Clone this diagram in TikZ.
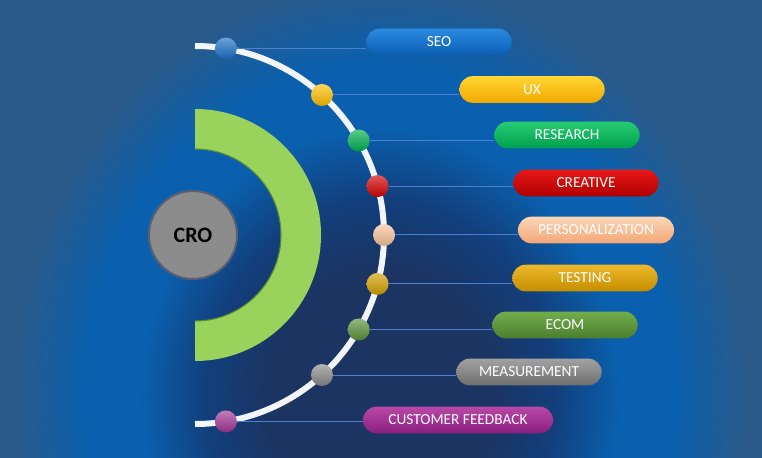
\documentclass[tikz,border=0pt]{standalone}
\usepackage{fontspec}
\setmainfont{Carlito}
\usetikzlibrary{calc,positioning,shapes.misc}

\definecolor{bgnavy}{HTML}{1B3461}
\definecolor{bgmid}{HTML}{123F7C}
\definecolor{bgblue}{HTML}{0A60AE}
\definecolor{bgcorner}{HTML}{2A5A8A}
\definecolor{linkblue}{HTML}{4A7FD2}
\definecolor{arcwhite}{HTML}{F2F5FA}
\definecolor{ringgreen}{HTML}{9AD35C}
\definecolor{ringshadow}{HTML}{5E8C34}
\definecolor{crogrey}{HTML}{8C8C8C}
\definecolor{croedge}{HTML}{5A6070}
\definecolor{seotop}{HTML}{2A8BE0}
\definecolor{seobot}{HTML}{0B5DB2}
\definecolor{seodot}{HTML}{1A70C8}
\definecolor{uxtop}{HTML}{FFD633}
\definecolor{uxbot}{HTML}{F2A900}
\definecolor{uxdot}{HTML}{FFC000}
\definecolor{restop}{HTML}{26CC72}
\definecolor{resbot}{HTML}{00A04E}
\definecolor{resdot}{HTML}{00B050}
\definecolor{cretop}{HTML}{E81818}
\definecolor{crebot}{HTML}{B00000}
\definecolor{credot}{HTML}{D40000}
\definecolor{pertop}{HTML}{FDD6B8}
\definecolor{perbot}{HTML}{F3A676}
\definecolor{perdot}{HTML}{F8C49C}
\definecolor{testop}{HTML}{EDB82A}
\definecolor{tesbot}{HTML}{C48E00}
\definecolor{tesdot}{HTML}{D4A000}
\definecolor{ecotop}{HTML}{72AE4C}
\definecolor{ecobot}{HTML}{4A7E2E}
\definecolor{ecodot}{HTML}{5C9238}
\definecolor{meatop}{HTML}{A2A2A2}
\definecolor{meabot}{HTML}{6E6E6E}
\definecolor{meadot}{HTML}{8A8A8A}
\definecolor{cuftop}{HTML}{B848A8}
\definecolor{cufbot}{HTML}{8A1F80}
\definecolor{cufdot}{HTML}{A33495}

\pgfdeclareradialshading{bgshade}{\pgfpoint{0bp}{0bp}}{color(0bp)=(bgnavy); color(6bp)=(bgnavy); color(9.5bp)=(bgmid); color(13bp)=(bgblue); color(16bp)=(bgblue); color(20bp)=(bgcorner); color(50bp)=(bgcorner)}

\begin{document}
\begin{tikzpicture}[x=0.75pt, y=0.75pt, font=\fontsize{11.5}{13}\selectfont]

        % Setup the styles for the pills, dots and links
        \tikzset{pill style/.style={rounded rectangle,
                                    minimum width=109pt,
                                    minimum height=20pt,
                                    inner sep=0pt,
                                    text=white},
                 dot style/.style={circle,
                                   minimum size=16.5pt,
                                   inner sep=0pt},
                 link style/.style={draw=linkblue,
                                    line width=0.75pt}}

        % Background
        \useasboundingbox (0,0) rectangle (762,457);
        \begin{scope}
            \clip (0,0) rectangle (762,457);
            \shade[shading=bgshade] (-80,-460) rectangle (840,580);
        \end{scope}

        % Centre of the arcs
        \coordinate (C) at (195,222);

        % Green half ring
        \fill[ringgreen] ([shift={(90:94.5pt)}]C) arc[start angle=90, end angle=-90, radius=94.5pt]
            -- ([shift={(-90:64.5pt)}]C) arc[start angle=-90, end angle=90, radius=64.5pt] -- cycle;
        \draw[ringshadow, line width=0.8pt] ([shift={(-90:64.5pt)}]C) arc[start angle=-90, end angle=90, radius=64.5pt];

        % Grey centre
        \node[circle, minimum size=66pt, fill=crogrey, draw=croedge, line width=1.5pt,
              font=\fontsize{16.5}{18}\selectfont\bfseries] at (193,222) (CRO) {CRO};

        % White arc
        \draw[arcwhite, line width=4.5pt] ([shift={(90:141.75pt)}]C) arc[start angle=90, end angle=-90, radius=141.75pt];

        % Draw the pills
        \node[pill style, top color=seotop, bottom color=seobot] at (439,415)   (SEO) {SEO};
        \node[pill style, top color=uxtop, bottom color=uxbot]   at (532,367.5) (UX)  {UX};
        \node[pill style, top color=restop, bottom color=resbot] at (567,322)   (RES) {RESEARCH};
        \node[pill style, top color=cretop, bottom color=crebot] at (586,274)   (CRE) {CREATIVE};
        \node[pill style, top color=pertop, bottom color=perbot,
              minimum width=117pt]                               at (596,227)   (PER) {PERSONALIZATION};
        \node[pill style, top color=testop, bottom color=tesbot] at (585,179)   (TES) {TESTING};
        \node[pill style, top color=ecotop, bottom color=ecobot] at (565,132)   (ECO) {ECOM};
        \node[pill style, top color=meatop, bottom color=meabot] at (529,85)    (MEA) {MEASUREMENT};
        \node[pill style, top color=cuftop, bottom color=cufbot,
              minimum width=142.5pt]                             at (458,37)    (CUF) {CUSTOMER FEEDBACK};

        % Draw the dots on the arc
        \node[dot style, top color=seodot!65!white, middle color=seodot, bottom color=seodot!85!black] at ([shift={(80.6:141.75pt)}]C)  (SEOd) {};
        \node[dot style, top color=uxdot!65!white, middle color=uxdot, bottom color=uxdot!85!black]    at ([shift={(47.8:141.75pt)}]C)  (UXd)  {};
        \node[dot style, top color=resdot!65!white, middle color=resdot, bottom color=resdot!85!black] at ([shift={(30:141.75pt)}]C)    (RESd) {};
        \node[dot style, top color=credot!65!white, middle color=credot, bottom color=credot!85!black] at ([shift={(15:141.75pt)}]C)    (CREd) {};
        \node[dot style, top color=perdot!65!white, middle color=perdot, bottom color=perdot!85!black] at ([shift={(0:141.75pt)}]C)     (PERd) {};
        \node[dot style, top color=tesdot!65!white, middle color=tesdot, bottom color=tesdot!85!black] at ([shift={(-15:141.75pt)}]C)   (TESd) {};
        \node[dot style, top color=ecodot!65!white, middle color=ecodot, bottom color=ecodot!85!black] at ([shift={(-30:141.75pt)}]C)   (ECOd) {};
        \node[dot style, top color=meadot!65!white, middle color=meadot, bottom color=meadot!85!black] at ([shift={(-47.8:141.75pt)}]C) (MEAd) {};
        \node[dot style, top color=cufdot!65!white, middle color=cufdot, bottom color=cufdot!85!black] at ([shift={(-80.6:141.75pt)}]C) (CUFd) {};

        % Connect the dots with the pills
        \draw[link style]
            (SEOd.east) -- (SEOd.east -| SEO.west)
            (UXd.east)  -- (UXd.east -| UX.west)
            (RESd.east) -- (RESd.east -| RES.west)
            (CREd.east) -- (CREd.east -| CRE.west)
            (PERd.east) -- (PERd.east -| PER.west)
            (TESd.east) -- (TESd.east -| TES.west)
            (ECOd.east) -- (ECOd.east -| ECO.west)
            (MEAd.east) -- (MEAd.east -| MEA.west)
            (CUFd.east) -- (CUFd.east -| CUF.west)
            ;
\end{tikzpicture}
\end{document}
